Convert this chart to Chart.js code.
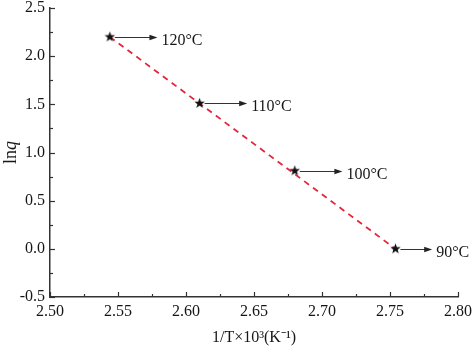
<!DOCTYPE html>
<html><head><meta charset="utf-8">
<script src="https://cdn.jsdelivr.net/npm/chart.js@4/dist/chart.umd.min.js"></script>
<style>html,body{margin:0;padding:0;background:#fff}#wrap{width:474px;height:351px}</style>
</head><body><div id="wrap"><canvas id="c" width="474" height="351"></canvas></div>
<script>
// ---- data ----
const invT = [2.544, 2.610, 2.680, 2.754];        // 1/T x 10^3 (K^-1)
const lnq = [2.20, 1.51, 0.81, 0.00];              // ln q
const tempLabels = ['120°C', '110°C', '100°C', '90°C'];
const arrowEndX = [2.579, 2.645, 2.715, 2.781];    // arrow tips (x data units)
const fitX = [2.544, 2.754];
const fitY = [2.20, 0.00];
const xMin = 2.50, xMax = 2.80, xStep = 0.05;
const yMin = -0.5, yMax = 2.5, yStep = 0.5;
const xTitle = '1/T×10³(K⁻¹)';
const yTitleMain = 'ln', yTitleItalic = 'q';

const FONT = "'Liberation Serif', 'Times New Roman', serif";
const AXIS = '#333333';
const TEXT = '#161616';

// filled five-pointed star marker
function makeStar(r) {
  const s = Math.ceil(r * 2 + 2);
  const cv = document.createElement('canvas');
  cv.width = s; cv.height = s;
  const g = cv.getContext('2d');
  g.translate(s / 2, s / 2);
  g.beginPath();
  for (let i = 0; i < 10; i++) {
    const rad = i % 2 === 0 ? r : r * 0.42;
    const a = -Math.PI / 2 + i * Math.PI / 5;
    const px = rad * Math.cos(a), py = rad * Math.sin(a);
    if (i === 0) g.moveTo(px, py); else g.lineTo(px, py);
  }
  g.closePath();
  g.fillStyle = '#111';
  g.fill();
  return cv;
}
const starImg = makeStar(5.5);

const extras = {
  id: 'extras',
  afterDatasetsDraw(chart) {
    const ctx = chart.ctx;
    const xs = chart.scales.x, ys = chart.scales.y;
    const area = chart.chartArea;
    ctx.save();
    // inward ticks
    ctx.strokeStyle = AXIS;
    ctx.lineWidth = 1.2;
    const nx = Math.round((xMax - xMin) / xStep);
    for (let i = 0; i <= nx * 2; i++) {
      const v = xMin + i * xStep / 2;
      const px = Math.round(xs.getPixelForValue(v)) + 0.5;
      const len = i % 2 === 0 ? 5 : 3;
      ctx.beginPath(); ctx.moveTo(px, area.bottom); ctx.lineTo(px, area.bottom - len); ctx.stroke();
    }
    const ny = Math.round((yMax - yMin) / yStep);
    for (let i = 0; i <= ny * 2; i++) {
      const v = yMin + i * yStep / 2;
      const py = Math.round(ys.getPixelForValue(v)) + 0.5;
      const len = i % 2 === 0 ? 5 : 3;
      ctx.beginPath(); ctx.moveTo(area.left, py); ctx.lineTo(area.left + len, py); ctx.stroke();
    }
    // arrows and labels
    ctx.lineWidth = 1;
    for (let i = 0; i < invT.length; i++) {
      const x0 = xs.getPixelForValue(invT[i]) + 5;
      const x1 = xs.getPixelForValue(arrowEndX[i]);
      const y = Math.round(ys.getPixelForValue(lnq[i])) + 0.5;
      ctx.strokeStyle = '#333';
      ctx.fillStyle = '#222';
      ctx.beginPath(); ctx.moveTo(x0, y); ctx.lineTo(x1 - 6, y); ctx.stroke();
      ctx.beginPath(); ctx.moveTo(x1, y); ctx.lineTo(x1 - 8, y - 2.7); ctx.lineTo(x1 - 8, y + 2.7); ctx.closePath(); ctx.fill();
      ctx.fillStyle = TEXT;
      ctx.font = '16px ' + FONT;
      ctx.textAlign = 'left';
      ctx.textBaseline = 'middle';
      ctx.fillText(tempLabels[i], x1 + 4, y + 3);
    }
    ctx.restore();
  },
  afterDraw(chart) {
    const ctx = chart.ctx;
    const area = chart.chartArea;
    ctx.save();
    ctx.translate(11, (area.top + area.bottom) / 2);
    ctx.rotate(-Math.PI / 2);
    ctx.fillStyle = TEXT;
    ctx.textBaseline = 'middle';
    ctx.font = '18px ' + FONT;
    const w1 = ctx.measureText(yTitleMain).width;
    ctx.font = 'italic 18px ' + FONT;
    const w2 = ctx.measureText(yTitleItalic).width;
    const sx = -(w1 + w2) / 2;
    ctx.textAlign = 'left';
    ctx.font = '18px ' + FONT;
    ctx.fillText(yTitleMain, sx, 0);
    ctx.font = 'italic 18px ' + FONT;
    ctx.fillText(yTitleItalic, sx + w1, 0);
    ctx.restore();
  }
};

new Chart(document.getElementById('c'), {
  type: 'scatter',
  data: {
    datasets: [
      {
        type: 'line',
        data: fitX.map((x, i) => ({ x, y: fitY[i] })),
        borderColor: '#e3263b',
        borderWidth: 1.8,
        borderDash: [6, 5],
        pointRadius: 0,
        fill: false,
        order: 2
      },
      {
        data: invT.map((x, i) => ({ x, y: lnq[i] })),
        pointStyle: starImg,
        pointRadius: 6,
        order: 1
      }
    ]
  },
  plugins: [extras],
  options: {
    responsive: false,
    animation: false,
    devicePixelRatio: 1,
    layout: { padding: { top: 8, right: 16, left: 0, bottom: 0 } },
    plugins: { legend: { display: false }, tooltip: { enabled: false } },
    scales: {
      x: {
        type: 'linear', min: xMin, max: xMax,
        afterFit(s) { s.height = 54; s.paddingLeft = 0; s.paddingRight = 0; },
        grid: { display: false, drawTicks: false },
        border: { display: true, color: AXIS, width: 1.5 },
        ticks: {
          stepSize: xStep, padding: 5, color: TEXT,
          font: { family: FONT, size: 16 },
          callback: v => Number(v).toFixed(2)
        },
        title: { display: true, text: xTitle, color: TEXT, font: { family: FONT, size: 16 }, padding: { top: 0, bottom: 4 } }
      },
      y: {
        type: 'linear', min: yMin, max: yMax,
        afterFit(s) { s.width = 50; s.paddingTop = 0; s.paddingBottom = 0; },
        grid: { display: false, drawTicks: false },
        border: { display: true, color: AXIS, width: 1.5 },
        ticks: {
          stepSize: yStep, padding: 5, color: TEXT,
          font: { family: FONT, size: 16 },
          callback: v => Number(v).toFixed(1)
        }
      }
    }
  }
});
</script>
</body></html>
